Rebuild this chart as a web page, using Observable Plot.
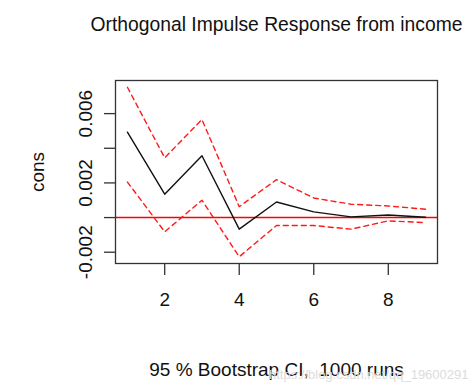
<!DOCTYPE html>
<html>
<head>
<meta charset="utf-8">
<script src="https://cdn.jsdelivr.net/npm/d3@7"></script>
<script src="https://cdn.jsdelivr.net/npm/@observablehq/plot@0.6"></script>
<style>
  html, body { margin: 0; padding: 0; background: white; }
</style>
</head>
<body>
<div id="chart"></div>
<script>
// Data
const horizon = [1, 2, 3, 4, 5, 6, 7, 8, 9];
const irf   = [0.00493, 0.00135, 0.00357, -0.00067, 0.00090, 0.00033, 0.00004, 0.00015, 0.00002];
const upper = [0.00752, 0.00345, 0.00566, 0.00063, 0.00219, 0.00113, 0.00077, 0.00067, 0.00048];
const lower = [0.00205, -0.00082, 0.00100, -0.00226, -0.00046, -0.00046, -0.00067, -0.00019, -0.00029];

const xTicks = [2, 4, 6, 8];
const yTicks = [-0.002, 0, 0.002, 0.004, 0.006];
const yTickLabels = [-0.002, 0.002, 0.006];

const titleText = "Orthogonal Impulse Response from income";
const xLabel = "95 % Bootstrap CI,  1000 runs";
const yLabel = "cons";
const watermark = "https://blog.csdn.net/qq_19600291";

// R-style 4% axis extension
const xmin = d3.min(horizon), xmax = d3.max(horizon);
const xr = xmax - xmin;
const allY = [...irf, ...upper, ...lower];
const ymin = d3.min(allY), ymax = d3.max(allY);
const yr = ymax - ymin;

const toRows = (vals, key) => horizon.map((h, i) => ({ h, v: vals[i], key }));
const irfRows = toRows(irf, "irf");
const upRows = toRows(upper, "upper");
const loRows = toRows(lower, "lower");

const fmt = d => (d < 0 ? "-" : "") + Math.abs(d).toFixed(3);

const chart = Plot.plot({
  width: 474,
  height: 392,
  marginLeft: 115,
  marginRight: 37,
  marginTop: 80,
  marginBottom: 129,
  style: { fontFamily: "'Liberation Sans', Arial, Helvetica, sans-serif", fontSize: "19px", background: "white", color: "black" },
  x: { domain: [xmin - 0.04 * xr, xmax + 0.04 * xr], axis: null },
  y: { domain: [ymin - 0.04 * yr, ymax + 0.04 * yr], axis: null },
  marks: [
    Plot.ruleY([0], { stroke: "#ff0000", strokeWidth: 1.6 }),
    Plot.line(upRows, { x: "h", y: "v", stroke: "#ff1a1a", strokeWidth: 1.4, strokeDasharray: "5,4" }),
    Plot.line(loRows, { x: "h", y: "v", stroke: "#ff1a1a", strokeWidth: 1.4, strokeDasharray: "5,4" }),
    Plot.line(irfRows, { x: "h", y: "v", stroke: "#111", strokeWidth: 1.4 }),
    Plot.frame({ stroke: "#333", strokeWidth: 1.3 }),
    Plot.axisX({ ticks: xTicks, tickSize: 12, tickFormat: () => "", label: null, stroke: "#333", strokeWidth: 1.3 }),
    Plot.axisY({ ticks: yTicks, tickSize: 11, tickFormat: () => "", label: null, stroke: "#333", strokeWidth: 1.3 }),
    Plot.text(xTicks, { x: d => d, text: d => String(d), frameAnchor: "bottom", dy: 42, lineAnchor: "bottom", fontSize: 19, fill: "#111" }),
    Plot.text(yTickLabels, { y: d => d, text: fmt, frameAnchor: "left", dx: -24, rotate: -90, textAnchor: "middle", lineAnchor: "bottom", fontSize: 19, fill: "#111" }),
    Plot.text([titleText], { text: d => d, frameAnchor: "top", dy: -50, lineAnchor: "bottom", fontSize: 19.3, fill: "#111" }),
    Plot.text([xLabel], { text: d => d, frameAnchor: "bottom", dy: 112, lineAnchor: "bottom", fontSize: 19, fill: "#111" }),
    Plot.text([yLabel], { text: d => d, frameAnchor: "left", dx: -72, rotate: -90, textAnchor: "middle", lineAnchor: "bottom", fontSize: 19, fill: "#111" }),
    Plot.text([watermark], { text: d => d, frameAnchor: "bottom-right", dx: 31, dy: 115, textAnchor: "end", lineAnchor: "bottom", fontSize: 13, fill: "#dcdcdc" })
  ]
});
document.getElementById("chart").appendChild(chart);
</script>
</body>
</html>
